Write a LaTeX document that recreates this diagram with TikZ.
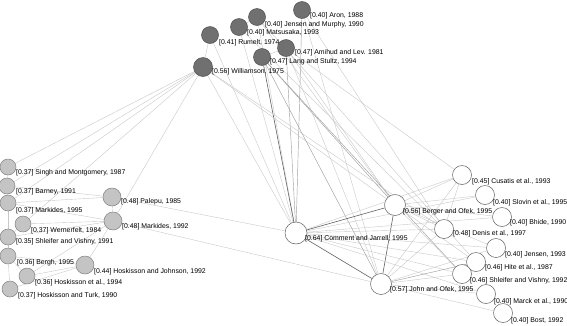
\documentclass[tikz,border=0pt]{standalone}
\usepackage{fontspec}
\setmainfont{Liberation Sans}
\pgfdeclarelayer{background}
\pgfsetlayers{background,main}
\definecolor{dkfill}{HTML}{707070}
\definecolor{dkdraw}{HTML}{505050}
\definecolor{ltfill}{HTML}{C4C4C4}
\definecolor{ltdraw}{HTML}{808080}
\definecolor{wtdraw}{HTML}{606060}
\definecolor{edgec}{HTML}{C8C8C8}
\definecolor{edgemid}{HTML}{A0A0A0}
\definecolor{edgedark}{HTML}{606060}
\tikzset{
 nd/.style={circle, draw, inner sep=0pt, line width=0.5pt},
 dk/.style={nd, fill=dkfill, draw=dkdraw, minimum size=17pt},
 lt/.style={nd, fill=ltfill, draw=ltdraw, minimum size=16pt},
 wt/.style={nd, fill=white, draw=wtdraw, minimum size=19pt},
 lbl/.style={anchor=west, inner sep=0pt, font=\fontsize{6.9}{7}\selectfont},
 ed/.style={draw=edgec, line width=0.4pt},
 edm/.style={draw=edgemid, line width=0.45pt},
 edd/.style={draw=edgedark, line width=0.6pt},
}
\begin{document}
\begin{tikzpicture}[x=1pt,y=-1pt]
\useasboundingbox (0,0) rectangle (567,325);
% top dark nodes
\node[dk] (aron) at (302,10) {};
\node[dk] (jm) at (257,17) {};
\node[dk] (mats) at (239,27) {};
\node[dk] (rum) at (210,35) {};
\node[dk] (ami) at (286,48) {};
\node[dk] (lang) at (262,57) {};
\node[dk, minimum size=19pt] (will) at (203,67) {};
% left nodes
\node[lt] (singh) at (8,167) {};
\node[lt] (barney) at (7,186) {};
\node[lt] (mark95) at (8,203) {};
\node[lt] (wern) at (23,224) {};
\node[lt] (shl91) at (8,237) {};
\node[lt] (bergh) at (8,256) {};
\node[lt] (hosk94) at (27,276) {};
\node[lt] (hturk) at (10,289) {};
\node[lt, minimum size=18pt] (pal) at (112,197) {};
\node[lt, minimum size=18pt] (mark92) at (113,221) {};
\node[lt, minimum size=18pt] (hj) at (85,265) {};
% right nodes
\node[wt, minimum size=22pt] (comm) at (296,233) {};
\node[wt, minimum size=21pt] (berg) at (395,205) {};
\node[wt, minimum size=21pt] (john) at (381,284) {};
\node[wt] (cus) at (462,175) {};
\node[wt] (slov) at (485,195) {};
\node[wt] (bhide) at (502,217) {};
\node[wt] (denis) at (444,229) {};
\node[wt] (jen93) at (496,248) {};
\node[wt] (hite) at (476,262) {};
\node[wt] (shl92) at (462,274) {};
\node[wt] (marck) at (486,294) {};
\node[wt] (bost) at (503,313) {};
% labels
\node[lbl] (aronL) at (310,16) {[0.40] Aron, 1988};
\node[lbl] (jmL) at (265,25) {[0.40] Jensen and Murphy, 1990};
\node[lbl] (matsL) at (247,33) {[0.40] Matsusaka, 1993};
\node[lbl] (rumL) at (219,43) {[0.41] Rumelt, 1974};
\node[lbl] (amiL) at (295,53) {[0.47] Amihud and Lev. 1981};
\node[lbl] (langL) at (270,62) {[0.47] Lang and Stultz, 1994};
\node[lbl] (willL) at (212,72) {[0.56] Williamson, 1975};
\node[lbl] (singhL) at (16,173) {[0.37] Singh and Montgomery, 1987};
\node[lbl] (barneyL) at (16,192) {[0.37] Barney, 1991};
\node[lbl] (mark95L) at (16,211) {[0.37] Markides, 1995};
\node[lbl] (wernL) at (31,231) {[0.37] Wernerfelt, 1984};
\node[lbl] (shl91L) at (16,242) {[0.35] Shleifer and Vishny, 1991};
\node[lbl] (berghL) at (17,263) {[0.36] Bergh, 1995};
\node[lbl] (hosk94L) at (35,283) {[0.36] Hoskisson et al., 1994};
\node[lbl] (hturkL) at (18,296) {[0.37] Hoskisson and Turk, 1990};
\node[lbl] (palL) at (121,202) {[0.48] Palepu, 1985};
\node[lbl] (mark92L) at (122,227) {[0.48] Markides, 1992};
\node[lbl] (hjL) at (94,272) {[0.44] Hoskisson and Johnson, 1992};
\node[lbl] (commL) at (305,239) {[0.64] Comment and Jarrell, 1995};
\node[lbl] (bergL) at (403,212) {[0.56] Berger and Ofek, 1995};
\node[lbl] (johnL) at (390,290) {[0.57] John and Ofek, 1995};
\node[lbl] (cusL) at (472,182) {[0.45] Cusatis et al., 1993};
\node[lbl] (slovL) at (493,203) {[0.40] Slovin et al., 1995};
\node[lbl] (bhideL) at (510,223) {[0.40] Bhide, 1990};
\node[lbl] (denisL) at (453,234) {[0.48] Denis et al., 1997};
\node[lbl] (jen93L) at (505,255) {[0.40] Jensen, 1993};
\node[lbl] (hiteL) at (485,268) {[0.46] Hite et al., 1987};
\node[lbl] (shl92L) at (470,281) {[0.46] Shleifer and Vishny, 1992};
\node[lbl] (marckL) at (494,302) {[0.40] Marck et al., 1990};
\node[lbl] (bostL) at (511,321) {[0.40] Bost, 1992};
\begin{pgfonlayer}{background}
% top cluster
\draw[ed] (rum) -- (will);
\draw[ed] (jm) -- (mats);
\draw[ed] (lang) -- (ami);
% top to core
\draw[edm] (aron) -- (comm);
\draw[ed] (jm) -- (comm);
\draw[ed] (mats) -- (comm);
\draw[ed] (rum) -- (comm);
\draw[edm] (ami) -- (comm);
\draw[edd] (lang) -- (comm);
\draw[ed] (will) -- (comm);
\draw[edm] (lang) -- (berg);
\draw[ed] (ami) -- (berg);
\draw[ed] (will) -- (berg);
\draw[ed] (jm) -- (berg);
\draw[edm] (lang) -- (john);
\draw[ed] (ami) -- (john);
\draw[ed] (aron) -- (john);
\draw[ed] (ami) -- (cus);
\draw[ed] (aron) -- (denis);
\draw[ed] (jm) -- (hite);
\draw[ed] (mats) -- (denis);
\draw[edm] (lang) -- (shl92);
\draw[ed] (will) -- (denis);
% williamson to left
\draw[ed] (will) -- (singh);
\draw[ed] (will) -- (barney);
\draw[ed] (will) -- (mark95);
\draw[ed] (will) -- (shl91);
\draw[ed] (will) -- (mark92);
% left cluster
\draw[ed] (singh) -- (barney);
\draw[ed] (barney) -- (mark95);
\draw[ed] (mark95) -- (shl91);
\draw[ed] (shl91) -- (bergh);
\draw[ed] (bergh) -- (hturk);
\draw[ed] (mark95) -- (pal);
\draw[ed] (mark95) -- (mark92);
\draw[ed] (barney) -- (pal);
\draw[ed] (wern) -- (mark92);
\draw[ed] (shl91) -- (mark92);
\draw[ed] (bergh) -- (hj);
\draw[ed] (hosk94) -- (hj);
\draw[ed] (bergh) -- (hosk94);
\draw[ed] (hturk) -- (hj);
\draw[ed] (pal) -- (mark92);
\draw[ed] (mark92) -- (hj);
\draw[ed] (hosk94) -- (mark92);
% left to core
\draw[ed] (pal) -- (comm);
\draw[ed] (mark92) -- (john);
% core
\draw[edd] (comm) -- (berg);
\draw[edd] (comm) -- (john);
\draw[edd] (berg) -- (john);
\draw[ed] (comm) -- (cus);
\draw[ed] (comm) -- (slov);
\draw[ed] (comm) -- (bhide);
\draw[ed] (comm) -- (denis);
\draw[ed] (comm) -- (jen93);
\draw[ed] (comm) -- (hite);
\draw[ed] (comm) -- (shl92);
\draw[ed] (comm) -- (marck);
\draw[ed] (berg) -- (cus);
\draw[ed] (berg) -- (slov);
\draw[ed] (berg) -- (bhide);
\draw[ed] (berg) -- (denis);
\draw[ed] (berg) -- (hite);
\draw[ed] (berg) -- (shl92);
\draw[ed] (berg) -- (jen93);
\draw[ed] (john) -- (cus);
\draw[ed] (john) -- (denis);
\draw[edm] (john) -- (hite);
\draw[ed] (john) -- (shl92);
\draw[ed] (john) -- (marck);
\draw[ed] (john) -- (bost);
\draw[ed] (john) -- (jen93);
\draw[ed] (denis) -- (cus);
\end{pgfonlayer}
\end{tikzpicture}
\end{document}
